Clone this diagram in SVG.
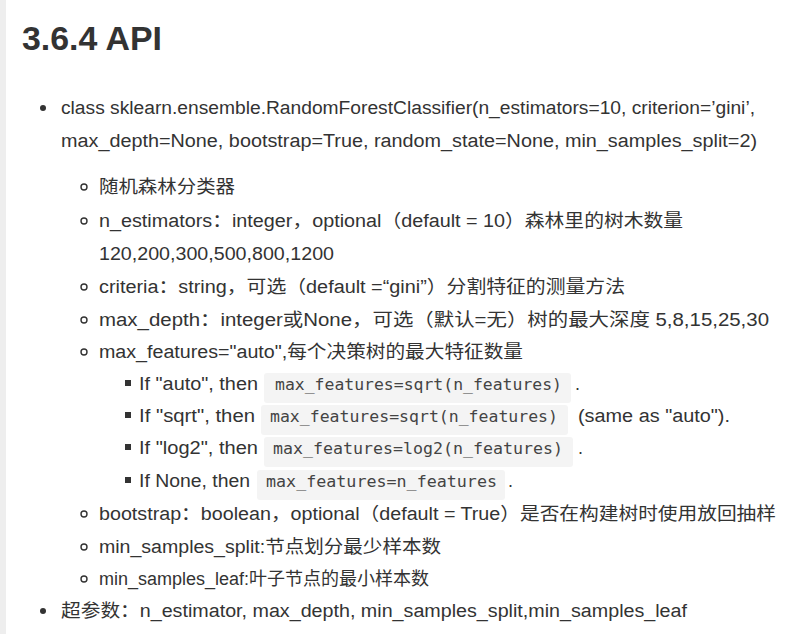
<svg xmlns="http://www.w3.org/2000/svg" width="788" height="634" viewBox="0 0 788 634">
<style>
.t{font-family:"Liberation Sans","Noto Sans CJK SC",sans-serif;font-size:18px;fill:#333}
.c{font-family:"DejaVu Sans Mono","Liberation Mono",monospace;font-size:15px;fill:#444}
.cb{fill:#f4f4f4}
.o{fill:none;stroke:#333;stroke-width:1.4}
</style>
<rect width="788" height="634" fill="#fff"/>
<rect x="0" y="0" width="6" height="634" fill="#eee"/>
<text x="22" y="50" textLength="140" lengthAdjust="spacingAndGlyphs" style="font-family:'Liberation Sans',sans-serif;font-size:34px;font-weight:bold;fill:#333">3.6.4 API</text>
<circle cx="43" cy="108" r="3" fill="#333"/>
<text class="t" x="61" y="114" textLength="694" lengthAdjust="spacingAndGlyphs">class sklearn.ensemble.RandomForestClassifier(n_estimators=10, criterion=’gini’,</text>
<text class="t" x="61" y="147" textLength="696" lengthAdjust="spacingAndGlyphs">max_depth=None, bootstrap=True, random_state=None, min_samples_split=2)</text>
<g>
<circle class="o" cx="84" cy="187" r="3"/>
<text class="t" x="99" y="193" textLength="136" lengthAdjust="spacingAndGlyphs">随机森林分类器</text>
<circle class="o" cx="84" cy="221" r="3"/>
<text class="t" x="99" y="227" textLength="584" lengthAdjust="spacingAndGlyphs">n_estimators：integer，optional（default = 10）森林里的树木数量</text>
<text class="t" x="99" y="260" textLength="235" lengthAdjust="spacingAndGlyphs">120,200,300,500,800,1200</text>
<circle class="o" cx="84" cy="287" r="3"/>
<text class="t" x="99" y="293" textLength="526" lengthAdjust="spacingAndGlyphs">criteria：string，可选（default =“gini”）分割特征的测量方法</text>
<circle class="o" cx="84" cy="320" r="3"/>
<text class="t" x="99" y="326" textLength="670" lengthAdjust="spacingAndGlyphs">max_depth：integer或None，可选（默认=无）树的最大深度 5,8,15,25,30</text>
<circle class="o" cx="84" cy="352" r="3"/>
<text class="t" x="99" y="358" textLength="424" lengthAdjust="spacingAndGlyphs">max_features="auto",每个决策树的最大特征数量</text>
</g>
<g>
<rect x="125" y="380" width="6" height="6" fill="#333"/>
<text class="t" x="139" y="390" textLength="119" lengthAdjust="spacingAndGlyphs">If "auto", then</text>
<rect class="cb" x="264" y="373" width="307" height="30" rx="3"/>
<text class="c" x="275" y="390" textLength="287" lengthAdjust="spacingAndGlyphs">max_features=sqrt(n_features)</text>
<text class="t" x="575" y="390">.</text>
<rect x="125" y="412" width="6" height="6" fill="#333"/>
<text class="t" x="139" y="422" textLength="116" lengthAdjust="spacingAndGlyphs">If "sqrt", then</text>
<rect class="cb" x="261" y="405" width="307" height="30" rx="3"/>
<text class="c" x="270" y="422" textLength="288" lengthAdjust="spacingAndGlyphs">max_features=sqrt(n_features)</text>
<text class="t" x="578" y="422" textLength="152" lengthAdjust="spacingAndGlyphs">(same as "auto").</text>
<rect x="125" y="444" width="6" height="6" fill="#333"/>
<text class="t" x="139" y="454" textLength="119" lengthAdjust="spacingAndGlyphs">If "log2", then</text>
<rect class="cb" x="264" y="437" width="309" height="30" rx="3"/>
<text class="c" x="273" y="454" textLength="290" lengthAdjust="spacingAndGlyphs">max_features=log2(n_features)</text>
<text class="t" x="578" y="454">.</text>
<rect x="125" y="477" width="6" height="6" fill="#333"/>
<text class="t" x="139" y="487" textLength="111" lengthAdjust="spacingAndGlyphs">If None, then</text>
<rect class="cb" x="257" y="470" width="248" height="30" rx="3"/>
<text class="c" x="266" y="487" textLength="231" lengthAdjust="spacingAndGlyphs">max_features=n_features</text>
<text class="t" x="508" y="487">.</text>
</g>
<g>
<circle class="o" cx="84" cy="514" r="3"/>
<text class="t" x="99" y="520" textLength="677" lengthAdjust="spacingAndGlyphs">bootstrap：boolean，optional（default = True）是否在构建树时使用放回抽样</text>
<circle class="o" cx="84" cy="547" r="3"/>
<text class="t" x="99" y="553" textLength="342" lengthAdjust="spacingAndGlyphs">min_samples_split:节点划分最少样本数</text>
<circle class="o" cx="84" cy="579" r="3"/>
<text class="t" x="99" y="585" textLength="330" lengthAdjust="spacingAndGlyphs">min_samples_leaf:叶子节点的最小样本数</text>
</g>
<circle cx="43" cy="611" r="3" fill="#333"/>
<text class="t" x="61" y="617" textLength="626" lengthAdjust="spacingAndGlyphs">超参数：n_estimator, max_depth, min_samples_split,min_samples_leaf</text>
</svg>
